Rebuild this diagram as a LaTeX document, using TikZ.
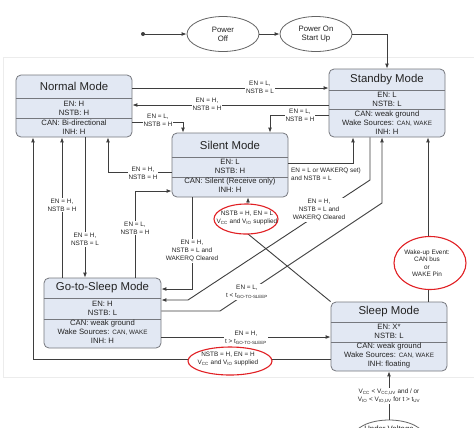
\documentclass[tikz,border=0pt]{standalone}
\usepackage{fontspec}
\setmainfont{Liberation Sans}
\usetikzlibrary{arrows.meta,shapes.geometric}
\definecolor{boxfill}{RGB}{226,232,243}
\definecolor{boxdraw}{RGB}{118,120,126}
\definecolor{linecol}{RGB}{62,62,62}
\definecolor{txtcol}{RGB}{35,35,35}
\definecolor{redmark}{RGB}{225,32,36}
\definecolor{ellcol}{RGB}{100,100,100}
\definecolor{framecol}{RGB}{236,236,236}
\begin{document}
\begin{tikzpicture}[x=1bp,y=-1bp,
  mode/.style={draw=boxdraw, fill=boxfill, line width=0.8bp, rounded corners=5bp, minimum width=116bp, inner sep=0},
  sepline/.style={draw=boxdraw, line width=0.8bp},
  ttl/.style={font=\fontsize{11.4bp}{13bp}\selectfont, text=txtcol, inner sep=0},
  body/.style={font=\fontsize{7.7bp}{9bp}\selectfont, align=center, text=txtcol, inner sep=0},
  conn/.style={draw=linecol, line width=0.9bp, -{Latex[length=5bp,width=4bp]}},
  lbl/.style={font=\fontsize{6.4bp}{8bp}\selectfont, align=center, fill=white, inner sep=1bp, text=txtcol},
  ltxt/.style={font=\fontsize{6.4bp}{8bp}\selectfont, align=center, inner sep=0, text=txtcol},
  redell/.style={ellipse, draw=redmark, line width=1.1bp, fill=white, inner sep=0},
  pwr/.style={ellipse, draw=ellcol, line width=0.8bp, fill=white, minimum width=72bp, minimum height=35bp, inner sep=0, align=center, font=\fontsize{7.8bp}{9bp}\selectfont, text=txtcol},
  small/.style={}
]
\useasboundingbox (0,0) rectangle (474,427);
\clip (0,0) rectangle (474,427);
\fill[white] (0,0) rectangle (474,427);
% faint frame
\draw[framecol, line width=0.7bp] (474,57) -- (3,57) -- (3,377) -- (474,377);

% power ellipses
\coordinate (start) at (143,34);
\fill[linecol] (start) circle (2bp);
\node[pwr] (poweroff) at (223,34) {Power\\Off};
\node[pwr] (poweron) at (316,34) {Power On\\Start Up};

% mode boxes
\node[mode, minimum height=62bp] (normal) at (74,106) {};
\node[mode, minimum height=68bp] (standby) at (387,103) {};
\node[mode, minimum height=64bp] (silent) at (230,165) {};
\node[mode, minimum width=117bp, minimum height=70bp] (gts) at (102.5,313) {};
\node[mode, minimum height=69bp] (sleep) at (389,336.5) {};

\draw[sepline] (normal.west |- 0,98) -- (normal.east |- 0,98);
\draw[sepline] (normal.west |- 0,118) -- (normal.east |- 0,118);
\draw[sepline] (standby.west |- 0,90) -- (standby.east |- 0,90);
\draw[sepline] (standby.west |- 0,109) -- (standby.east |- 0,109);
\draw[sepline] (silent.west |- 0,157) -- (silent.east |- 0,157);
\draw[sepline] (silent.west |- 0,177) -- (silent.east |- 0,177);
\draw[sepline] (gts.west |- 0,298) -- (gts.east |- 0,298);
\draw[sepline] (gts.west |- 0,319) -- (gts.east |- 0,319);
\draw[sepline] (sleep.west |- 0,322) -- (sleep.east |- 0,322);
\draw[sepline] (sleep.west |- 0,342) -- (sleep.east |- 0,342);

\node[ttl] (normalT) at (74,86.5) {Normal Mode};
\node[body] (normalA) at (74,108.5) {EN: H\\NSTB: H};
\node[body] (normalB) at (74,127.5) {CAN: Bi-directional\\INH: H};

\node[ttl] (standbyT) at (387,79.5) {Standby Mode};
\node[body] (standbyA) at (387,99.5) {EN: L\\NSTB: L};
\node[body] (standbyB) at (387,123) {CAN: weak ground\\Wake Sources: {\fontsize{6.3bp}{9bp}\selectfont CAN, WAKE}\\INH: H};

\node[ttl] (silentT) at (230,145) {Silent Mode};
\node[body] (silentA) at (230,166.5) {EN: L\\NSTB: H};
\node[body] (silentB) at (230,185.5) {CAN: Silent (Receive only)\\INH: H};

\node[ttl] (gtsT) at (102.5,288) {Go-to-Sleep Mode};
\node[body] (gtsA) at (102.5,308.5) {EN: H\\NSTB: L};
\node[body] (gtsB) at (102.5,332) {CAN: weak ground\\Wake Sources: {\fontsize{6.3bp}{9bp}\selectfont CAN, WAKE}\\INH: H};

\node[ttl] (sleepT) at (389,312) {Sleep Mode};
\node[body] (sleepA) at (389,331.5) {EN: X*\\NSTB: L};
\node[body] (sleepB) at (389,355) {CAN: weak ground\\Wake Sources: {\fontsize{6.3bp}{9bp}\selectfont CAN, WAKE}\\INH: floating};

% under voltage ellipse (cut by the bottom edge)
\node[pwr, minimum height=36bp] (uv) at (389,438) {};
\node[ltxt, font=\fontsize{7.8bp}{9bp}\selectfont] (uvt) at (389,429) {Under Voltage};

% connectors
\draw[conn] (start) -- (poweroff);
\draw[conn] (poweroff) -- (poweron);
\draw[conn] (poweron.east) -| (standby.north);
\draw[conn] (normal.east |- 0,88) -- (standby.west |- 0,88);
\draw[conn] (standby.west |- 0,105) -- (normal.east |- 0,105);
\draw[conn] (normal.east |- 0,122) -| (silent.north -| 183,0);
\draw[conn] (standby.west |- 0,115) -| (silent.north -| 270,0);
\draw[conn] (silent.west |- 0,172) -| (normal.south -| 108,0);
\draw[conn] (silent.east |- 0,163) -| (standby.south -| 353,0);
\draw[conn] (gts.north -| 62,0) -- (normal.south -| 62,0);
\draw[conn] (normal.south -| 85,0) -- (gts.north -| 85,0);
\draw[conn] (gts.north -| 135,0) |- (silent.west |- 0,191);
\draw[conn] (sleep.west |- 0,359) -| (normal.south -| 33,0);
\draw[conn] (silent.south -| 192,0) |- (gts.east |- 0,289);
\draw[conn] (standby.south -| 370,0) -- (370,180) -- (188,300) -- (gts.east |- 0,300);
\draw[conn] (gts.east |- 0,311) -- (220,311) -- (382,203) -- (standby.south -| 382,0);
\draw[conn] (gts.east |- 0,337) -- (sleep.west |- 0,337);
\draw[conn] (sleep.north west) -- (248,234) -- (silent.south -| 248,0);
\draw[conn] (sleep.north -| 428,0) -- (standby.south -| 428,0);
\draw[conn] (uv.north) -- (sleep.south -| uv.north);

% labels
\node[lbl] (l1) at (260,87.5) {EN = L,\\NSTB = L};
\node[lbl] (l2) at (207,104) {EN = H,\\NSTB = H};
\node[lbl] (l3) at (158,120) {EN = L,\\NSTB = H};
\node[lbl] (l4) at (300,115.5) {EN = L,\\NSTB = H};
\node[lbl] (l5) at (143,173) {EN = H,\\NSTB = H};
\node[lbl, fill=none, align=left, anchor=north west] (l6) at (290,167) {EN = L or WAKERQ set)\\and NSTB = L};
\node[lbl] (l7) at (62,205) {EN = H,\\NSTB = H};
\node[lbl] (l8) at (85,239.5) {EN = H,\\NSTB = L};
\node[lbl] (l9) at (135,228) {EN = L,\\NSTB = H};
\node[lbl] (l11) at (192,251) {EN = H,\\NSTB = L and\\WAKERQ Cleared};
\node[lbl] (l12) at (319,210) {EN = H,\\NSTB = L and\\WAKERQ Cleared};
\node[lbl] (l13) at (247,292) {EN = L,\\t < t\textsubscript{GO-TO-SLEEP}};
\node[lbl] (l14) at (246,338) {EN = H,\\t > t\textsubscript{GO-TO-SLEEP}};
\node[lbl] (l17) at (389,396) {V\textsubscript{CC} < V\textsubscript{CC,UV} and / or\\V\textsubscript{IO} < V\textsubscript{IO,UV} for t > t\textsubscript{UV}};

% red marked labels
\node[redell, minimum width=64bp, minimum height=30bp] (r1) at (246,219) {};
\node[ltxt] (r1t) at (247,217.5) {NSTB = H, EN = L\\V\textsubscript{CC} and V\textsubscript{IO} supplied};
\node[redell, minimum width=84bp, minimum height=28bp] (r2) at (230,361) {};
\node[ltxt] (r2t) at (228,359) {NSTB = H, EN = H\\V\textsubscript{CC} and V\textsubscript{IO} supplied};
\node[redell, minimum width=72bp, minimum height=53bp] (r3) at (430,263) {};
\node[ltxt, font=\fontsize{6.4bp}{7.5bp}\selectfont] (r3t) at (427,263) {Wake-up Event:\\CAN bus\\or\\WAKE Pin};
\end{tikzpicture}
\end{document}
